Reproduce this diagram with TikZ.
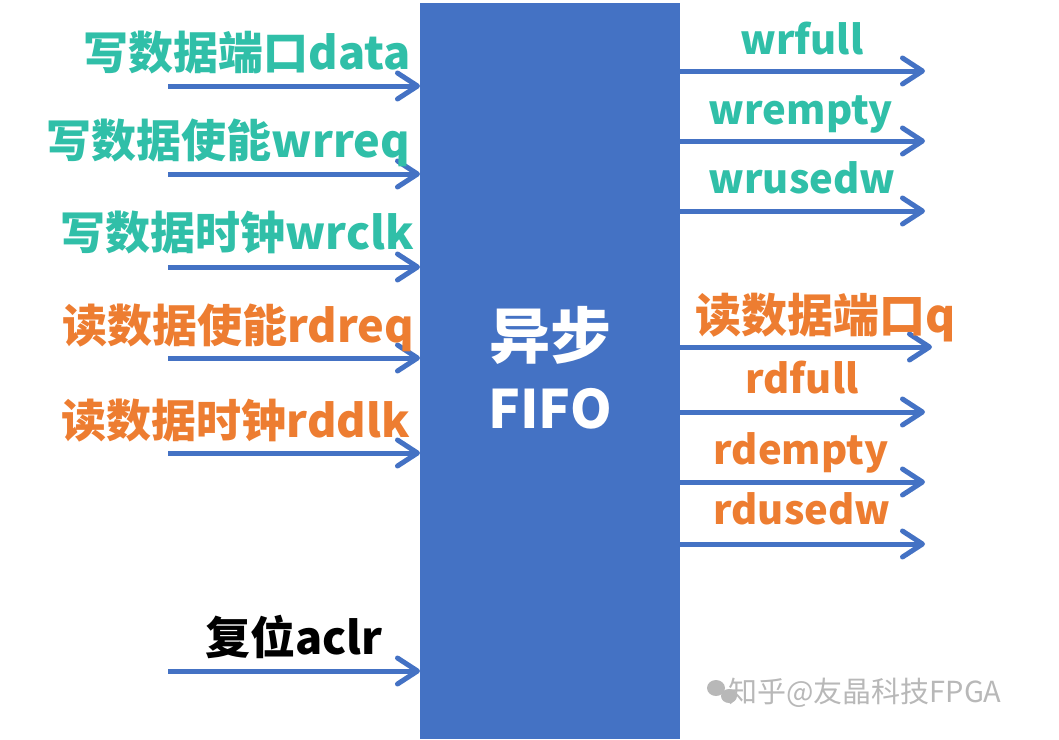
\documentclass[tikz,border=0pt]{standalone}
\usepackage{fontspec}
\setmainfont{Noto Sans CJK SC}[BoldFont={Noto Sans CJK SC Black}]
\usetikzlibrary{arrows.meta}
\definecolor{fifoblue}{HTML}{4472C4}
\definecolor{wteal}{HTML}{30BFA8}
\definecolor{rorange}{HTML}{ED7D31}
\definecolor{wmgray}{HTML}{B8B8B8}
\tikzset{
  sig/.style={draw=fifoblue, line width=5pt, -{Straight Barb[length=20pt,width=26pt,line join=round,line cap=round]}},
  lbl/.style={font=\bfseries\fontsize{46}{46}\selectfont, inner sep=0pt},
  inl/.style={lbl, font=\bfseries\fontsize{45}{45}\selectfont, anchor=base east},
  outl/.style={lbl, font=\bfseries\fontsize{40}{40}\selectfont, anchor=base},
}
\begin{document}
\begin{tikzpicture}[x=1pt,y=-1pt]
\useasboundingbox (0,0) rectangle (1059,739);
\node[fill=fifoblue, minimum width=260pt, minimum height=736pt, inner sep=0pt, anchor=north west] (fifo) at (420,3) {};
\node[font=\bfseries\fontsize{61}{61}\selectfont, text=white, anchor=base, inner sep=0pt] (t1) at (550,358) {异步};
\node[font=\bfseries\fontsize{53}{53}\selectfont, text=white, anchor=base, inner sep=0pt] (t2) at (550,428) {FIFO};

% inputs
\foreach \n/\y in {data/86, wrreq/174, wrclk/267, rdreq/358, rddlk/453, aclr/671}{
  \coordinate (s\n) at (168,\y);
  \coordinate (e\n) at (420,\y);
  \draw[sig] (s\n) -- (e\n);
}
\node[inl, text=wteal] (ldata) at (411,69) {写数据端口data};
\node[inl, text=wteal] (lwrreq) at (410,157) {写数据使能wrreq};
\node[inl, text=wteal] (lwrclk) at (414,249) {写数据时钟wrclk};
\node[inl, text=rorange] (lrdreq) at (414,342) {读数据使能rdreq};
\node[inl, text=rorange] (lrddlk) at (410,437) {读数据时钟rddlk};
\node[inl, text=black] (laclr) at (383,654) {复位aclr};

% outputs
\foreach \n/\y/\x in {wrfull/71/925, wrempty/141/925, wrusedw/211/925, q/347/932, rdfull/412/925, rdempty/482/925, rdusedw/544/925}{
  \coordinate (o\n) at (680,\y);
  \coordinate (p\n) at (\x,\y);
  \draw[sig] (o\n) -- (p\n);
}
\node[outl, text=wteal] (lwrfull) at (802,54) {wrfull};
\node[outl, text=wteal] (lwrempty) at (801,124) {wrempty};
\node[outl, text=wteal] (lwrusedw) at (802,193) {wrusedw};
\node[lbl, anchor=base west, text=rorange] (lq) at (695,332) {读数据端口q};
\node[outl, text=rorange] (lrdfull) at (802,393) {rdfull};
\node[outl, text=rorange] (lrdempty) at (801,464) {rdempty};
\node[outl, text=rorange] (lrdusedw) at (802,524) {rdusedw};

% watermark
\fill[wmgray] (716,688) ellipse (9 and 8);
\fill[wmgray] (729,696) ellipse (8 and 7);
\node[font=\fontsize{29}{29}\selectfont, text=wmgray, anchor=base west, inner sep=0pt] (wm) at (728,702) {知乎@友晶科技FPGA};
\end{tikzpicture}
\end{document}
